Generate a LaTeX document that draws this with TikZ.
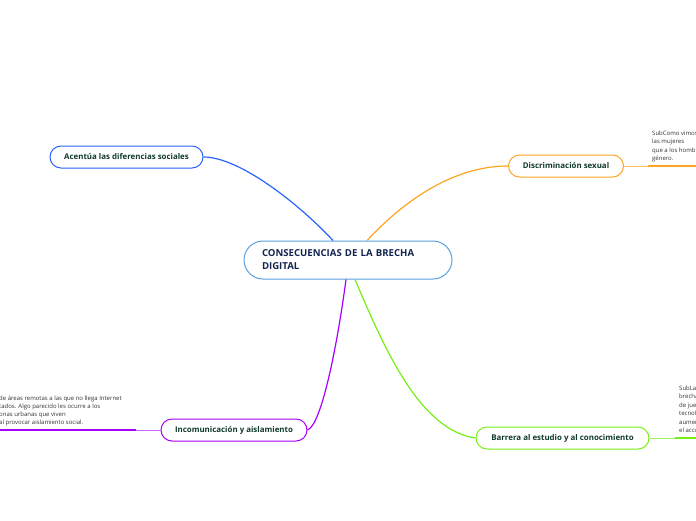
\documentclass[tikz,border=0pt]{standalone}
\usepackage{fontspec}
\setmainfont{Open Sans}
\usepackage{tikz}
\usetikzlibrary{positioning}

\definecolor{txtgreen}{RGB}{16,58,44}
\definecolor{txtnavy}{RGB}{20,36,80}
\definecolor{cmain}{RGB}{88,160,222}
\definecolor{cblue}{RGB}{41,98,255}
\definecolor{corange}{RGB}{255,165,36}
\definecolor{cpurple}{RGB}{166,0,255}
\definecolor{clime}{RGB}{118,240,20}

\begin{document}
\begin{tikzpicture}[x=1pt,y=-1pt,
    rama/.style={draw, rounded corners=11pt, line width=1pt, fill=white, minimum height=22pt,
      inner sep=0pt, font=\fontsize{7.9}{9}\selectfont\bfseries, text=txtgreen},
    conn/.style={line width=1.2pt},
    fino/.style={line width=0.6pt},
    grueso/.style={line width=2pt},
    nota/.style={anchor=base west, inner sep=0pt, font=\fontsize{6}{7}\selectfont, text=black!80}]
    \useasboundingbox (0,0) rectangle (696,520);
    \clip (0,0) rectangle (696,520);
    \node[draw=cmain, rounded corners=19pt, line width=1pt, minimum width=208pt, minimum height=38pt,
      text width=172pt, inner xsep=18pt, inner ysep=0pt, align=left, text=txtnavy,
      font=\fontsize{9.6}{13}\selectfont\bfseries] (centro) at (348,260) {CONSECUENCIAS DE LA BRECHA\\DIGITAL};
    \node[rama, draw=cblue, minimum width=153pt] (acentua) at (126.5,157) {Acentúa las diferencias sociales};
    \node[rama, draw=corange, minimum width=115pt] (discrim) at (566,166) {Discriminación sexual};
    \node[rama, draw=cpurple, minimum width=146pt] (incom) at (234,430) {Incomunicación y aislamiento};
    \node[rama, draw=clime, minimum width=173pt] (barrera) at (562.5,438) {Barrera al estudio y al conocimiento};
    % ramas desde el centro
    \draw[cblue, conn] (acentua.east) .. controls (240,157) and (300,205) .. ([xshift=-15pt]centro.north);
    \draw[corange, conn] ([xshift=19pt]centro.north) .. controls (400,205) and (450,166) .. (discrim.west);
    \draw[cpurple, conn] ([xshift=-2pt]centro.south) .. controls (338,340) and (322,425) .. (incom.east);
    \draw[clime, conn] ([xshift=7pt]centro.south) .. controls (385,350) and (420,430) .. (barrera.west);
    % notas
    \coordinate (nd) at (648,166);
    \coordinate (ni) at (136,430);
    \coordinate (nb) at (675,438);
    \draw[corange!70, fino] (discrim.east) -- (nd);
    \draw[corange, grueso] (nd) -- (700,166);
    \draw[cpurple!60, fino] (incom.west) -- (ni);
    \draw[cpurple, grueso] (ni) -- (-5,430);
    \draw[clime!70, fino] (barrera.east) -- (nb);
    \draw[clime, grueso] (nb) -- (700,438);
    \foreach \t [count=\i] in {{SubComo vimos}, {las mujeres}, {que a los hombr}, {género.}}
      \node[nota] (od\i) at (652,127+8.4*\i) {\t};
    \foreach \t [count=\i] in {{de áreas remotas a las que no llega Internet}, {tados. Algo parecido les ocurre a los},
        {onas urbanas que viven}, {al provocar aislamiento social.}}
      \node[nota] (oi\i) at (-1,392+8*\i) {\t};
    \foreach \t [count=\i] in {{SubLa}, {brecha}, {de jue}, {tecnol}, {aumen}, {el acco}}
      \node[nota] (ob\i) at (679,382+8.4*\i) {\t};
\end{tikzpicture}
\end{document}
